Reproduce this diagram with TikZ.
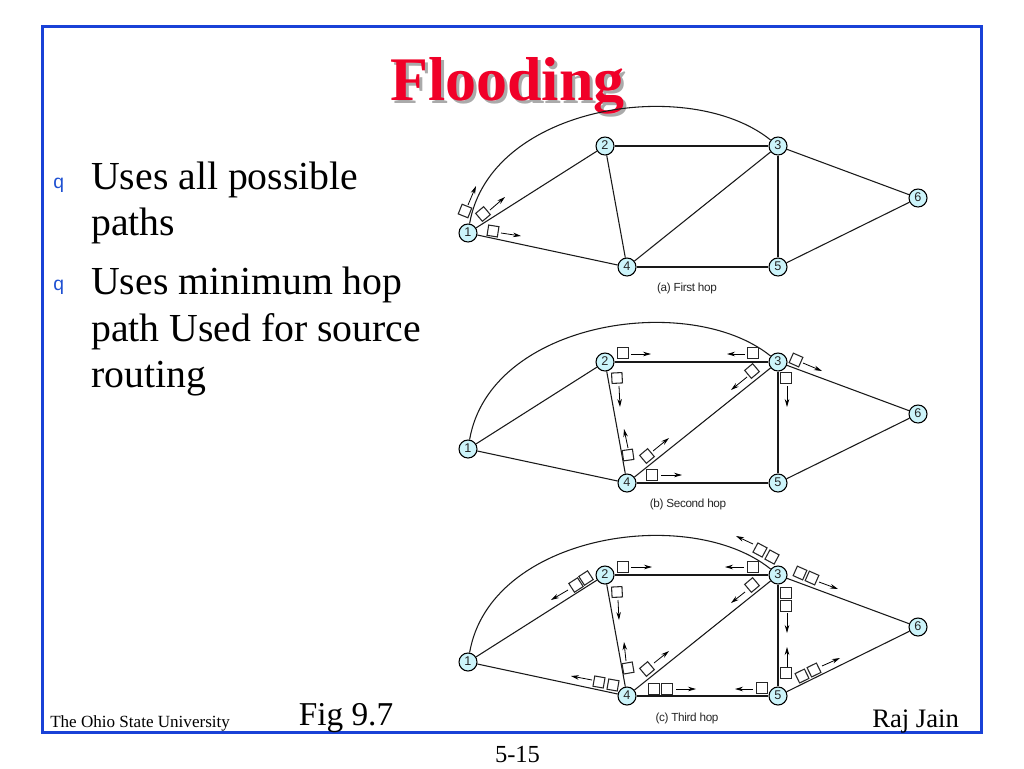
\documentclass[tikz,border=0pt]{standalone}
\usepackage{fontspec}
\setmainfont{Liberation Serif}
\newfontfamily\capfont{Liberation Sans}
\usetikzlibrary{arrows.meta}
\definecolor{frameblue}{RGB}{25,65,215}
\definecolor{titlered}{RGB}{240,0,40}
\definecolor{shadegray}{RGB}{170,170,170}
\definecolor{nodecyan}{RGB}{204,244,250}
\definecolor{bulletblue}{RGB}{30,80,210}
\tikzset{
  hub/.style={circle,draw=black,fill=nodecyan,line width=.8pt,minimum size=13.5pt,inner sep=0pt,font=\capfont\fontsize{9.5}{9.5}\selectfont,text=black!85},
  link/.style={draw=black!90,line width=.8pt},
  packet/.style={draw=black!85,fill=white,line width=.8pt,minimum size=7.8pt,inner sep=0pt,outer sep=0pt},
  flow/.style={draw=black,line width=.6pt,-{Stealth[length=6pt,width=3.4pt]}},
  body/.style={anchor=base west,inner sep=0pt,font=\fontsize{29.8}{30}\selectfont,text=black},
  bullet/.style={anchor=base west,inner sep=0pt,font=\capfont\fontsize{14.5}{14.5}\selectfont,text=bulletblue},
  caption/.style={anchor=base,inner sep=0pt,font=\capfont\fontsize{8.8}{8.8}\selectfont\addfontfeatures{LetterSpace=-3},text=black!85},
  foot/.style={anchor=base west,inner sep=0pt,text=black}
}
% network skeleton: #1 prefix, #2 vertical offset
\newcommand{\netw}[2]{%
  \node[hub] (#11) at (468,233+#2) {\raisebox{1pt}{1}};
  \node[hub] (#12) at (605,146+#2) {\raisebox{1pt}{2}};
  \node[hub] (#13) at (778,146+#2) {\raisebox{1pt}{3}};
  \node[hub] (#14) at (627,267+#2) {\raisebox{1pt}{4}};
  \node[hub] (#15) at (778,267+#2) {\raisebox{1pt}{5}};
  \node[hub] (#16) at (918,198+#2) {\raisebox{1pt}{6}};
  \draw[link] (#11) -- (#12);
  \draw[link] (#11) -- (#14);
  \draw[link] (#12) -- (#13);
  \draw[link] (#12) -- (#14);
  \draw[link] (#13) -- (#14);
  \draw[link] (#13) -- (#15);
  \draw[link] (#13) -- (#16);
  \draw[link] (#14) -- (#15);
  \draw[link] (#15) -- (#16);
  \draw[link] (#11) .. controls (490,105+#2) and (690,75+#2) .. (#13);
}
% packet: name, x, y, rotation
\newcommand{\pk}[4]{\node[packet,rotate=#4] (#1) at (#2,#3) {};}
% flow arrow: name, x1,y1,x2,y2
\newcommand{\fl}[5]{\coordinate (#1s) at (#2,#3);\coordinate (#1e) at (#4,#5);\draw[flow] (#1s) -- (#1e);}
\begin{document}
\begin{tikzpicture}[x=.75pt,y=-.75pt]
\useasboundingbox (0,0) rectangle (1024,768);
\fill[white] (0,0) rectangle (1024,768);
\draw[frameblue,line width=2pt] (42.3,26.7) rectangle (981.7,732.7);
% title
\node[anchor=base,inner sep=0pt,font=\bfseries\fontsize{46.5}{46.5}\selectfont,text=shadegray] (titleshade) at (510.5,103) {Flooding};
\node[anchor=base,inner sep=0pt,font=\bfseries\fontsize{46.5}{46.5}\selectfont,text=titlered] (title) at (507.5,100) {Flooding};
% bullets
\node[bullet] (q1) at (53,188) {q};
\node[body] (l1) at (91,189) {Uses all possible};
\node[body] (l2) at (91,235.5) {paths};
\node[bullet] (q2) at (53,290) {q};
\node[body] (l3) at (91,294.5) {Uses minimum hop};
\node[body] (l4) at (91,341) {path Used for source};
\node[body] (l5) at (91,387.5) {routing};
% footer
\node[foot,font=\fontsize{12.8}{13}\selectfont] (ohio) at (50,727) {The Ohio State University};
\node[foot,font=\fontsize{25}{25}\selectfont] (fig) at (298.5,725.5) {Fig 9.7};
\node[foot,font=\fontsize{20}{20}\selectfont] (raj) at (872,727) {Raj Jain};
\node[foot,anchor=base,font=\fontsize{18.4}{18.4}\selectfont] (pg) at (517.5,762) {5-15};
% networks
\netw{a}{0}
\netw{b}{216}
\netw{c}{429}
\node[caption] (capa) at (687,291) {(a) First hop};
\node[caption] (capb) at (688,507) {(b) Second hop};
\node[caption] (capc) at (687,721) {(c) Third hop};
% first hop
\pk{ap1}{465}{211}{-22}\fl{af1}{468}{205}{476}{186}
\pk{ap2}{483}{214}{40}\fl{af2}{490}{210}{505}{197}
\pk{ap3}{493}{231}{-9}\fl{af3}{501}{233}{521}{236}
% second hop
\pk{bp1}{623}{353}{0}\fl{bf1}{631}{354}{651}{354}
\pk{bp2}{753}{353}{0}\fl{bf2}{745}{354}{727}{354}
\pk{bp3}{752}{371}{40}\fl{bf3}{747}{377}{731}{390}
\pk{bp4}{796}{360}{-24}\fl{bf4}{803}{363}{822}{371}
\pk{bp5}{786}{378}{0}\fl{bf5}{787}{386}{787}{407}
\pk{bp6}{617}{378}{3}\fl{bf6}{619}{386}{620}{407}
\pk{bp7}{628}{455}{8}\fl{bf7}{628}{448}{624}{429}
\pk{bp8}{647}{456}{40}\fl{bf8}{653}{451}{669}{438}
\pk{bp9}{652}{475}{0}\fl{bf9}{661}{475}{682}{475}
% third hop
\pk{cp1}{623}{567}{0}\fl{cf1}{631}{567}{652}{567}
\pk{cp2}{586}{578}{33}\pk{cp3}{576}{585}{33}\fl{cf2}{568}{590}{551}{600}
\pk{cp4}{617}{592}{3}\fl{cf3}{618}{600}{619}{620}
\pk{cp5}{628}{668}{10}\fl{cf4}{626}{661}{624}{642}
\pk{cp6}{647}{669}{40}\fl{cf5}{654}{663}{669}{651}
\pk{cp7}{613}{685}{-10}\pk{cp8}{599}{682}{-10}\fl{cf6}{592}{680}{571}{676}
\pk{cp9}{654}{689}{0}\pk{cp10}{667}{689}{0}\fl{cf7}{676}{689}{696}{689}
\pk{cp11}{753}{567}{0}\fl{cf8}{744}{567}{725}{567}
\pk{cp12}{752}{585}{40}\fl{cf9}{745}{592}{731}{603}
\pk{cp13}{772}{557}{-28}\pk{cp14}{760}{550}{-28}\fl{cf10}{753}{544}{736}{536}
\pk{cp15}{800}{573}{-24}\pk{cp16}{812}{578}{-24}\fl{cf11}{819}{582}{838}{589}
\pk{cp17}{786}{593}{0}\pk{cp18}{786}{606}{0}\fl{cf12}{787}{613}{787}{633}
\pk{cp19}{786}{673}{0}\fl{cf13}{787}{667}{787}{647}
\pk{cp20}{802}{676}{26}\pk{cp21}{814}{670}{26}\fl{cf14}{822}{666}{840}{658}
\pk{cp22}{762}{688}{0}\fl{cf15}{753}{689}{735}{689}
\end{tikzpicture}
\end{document}
